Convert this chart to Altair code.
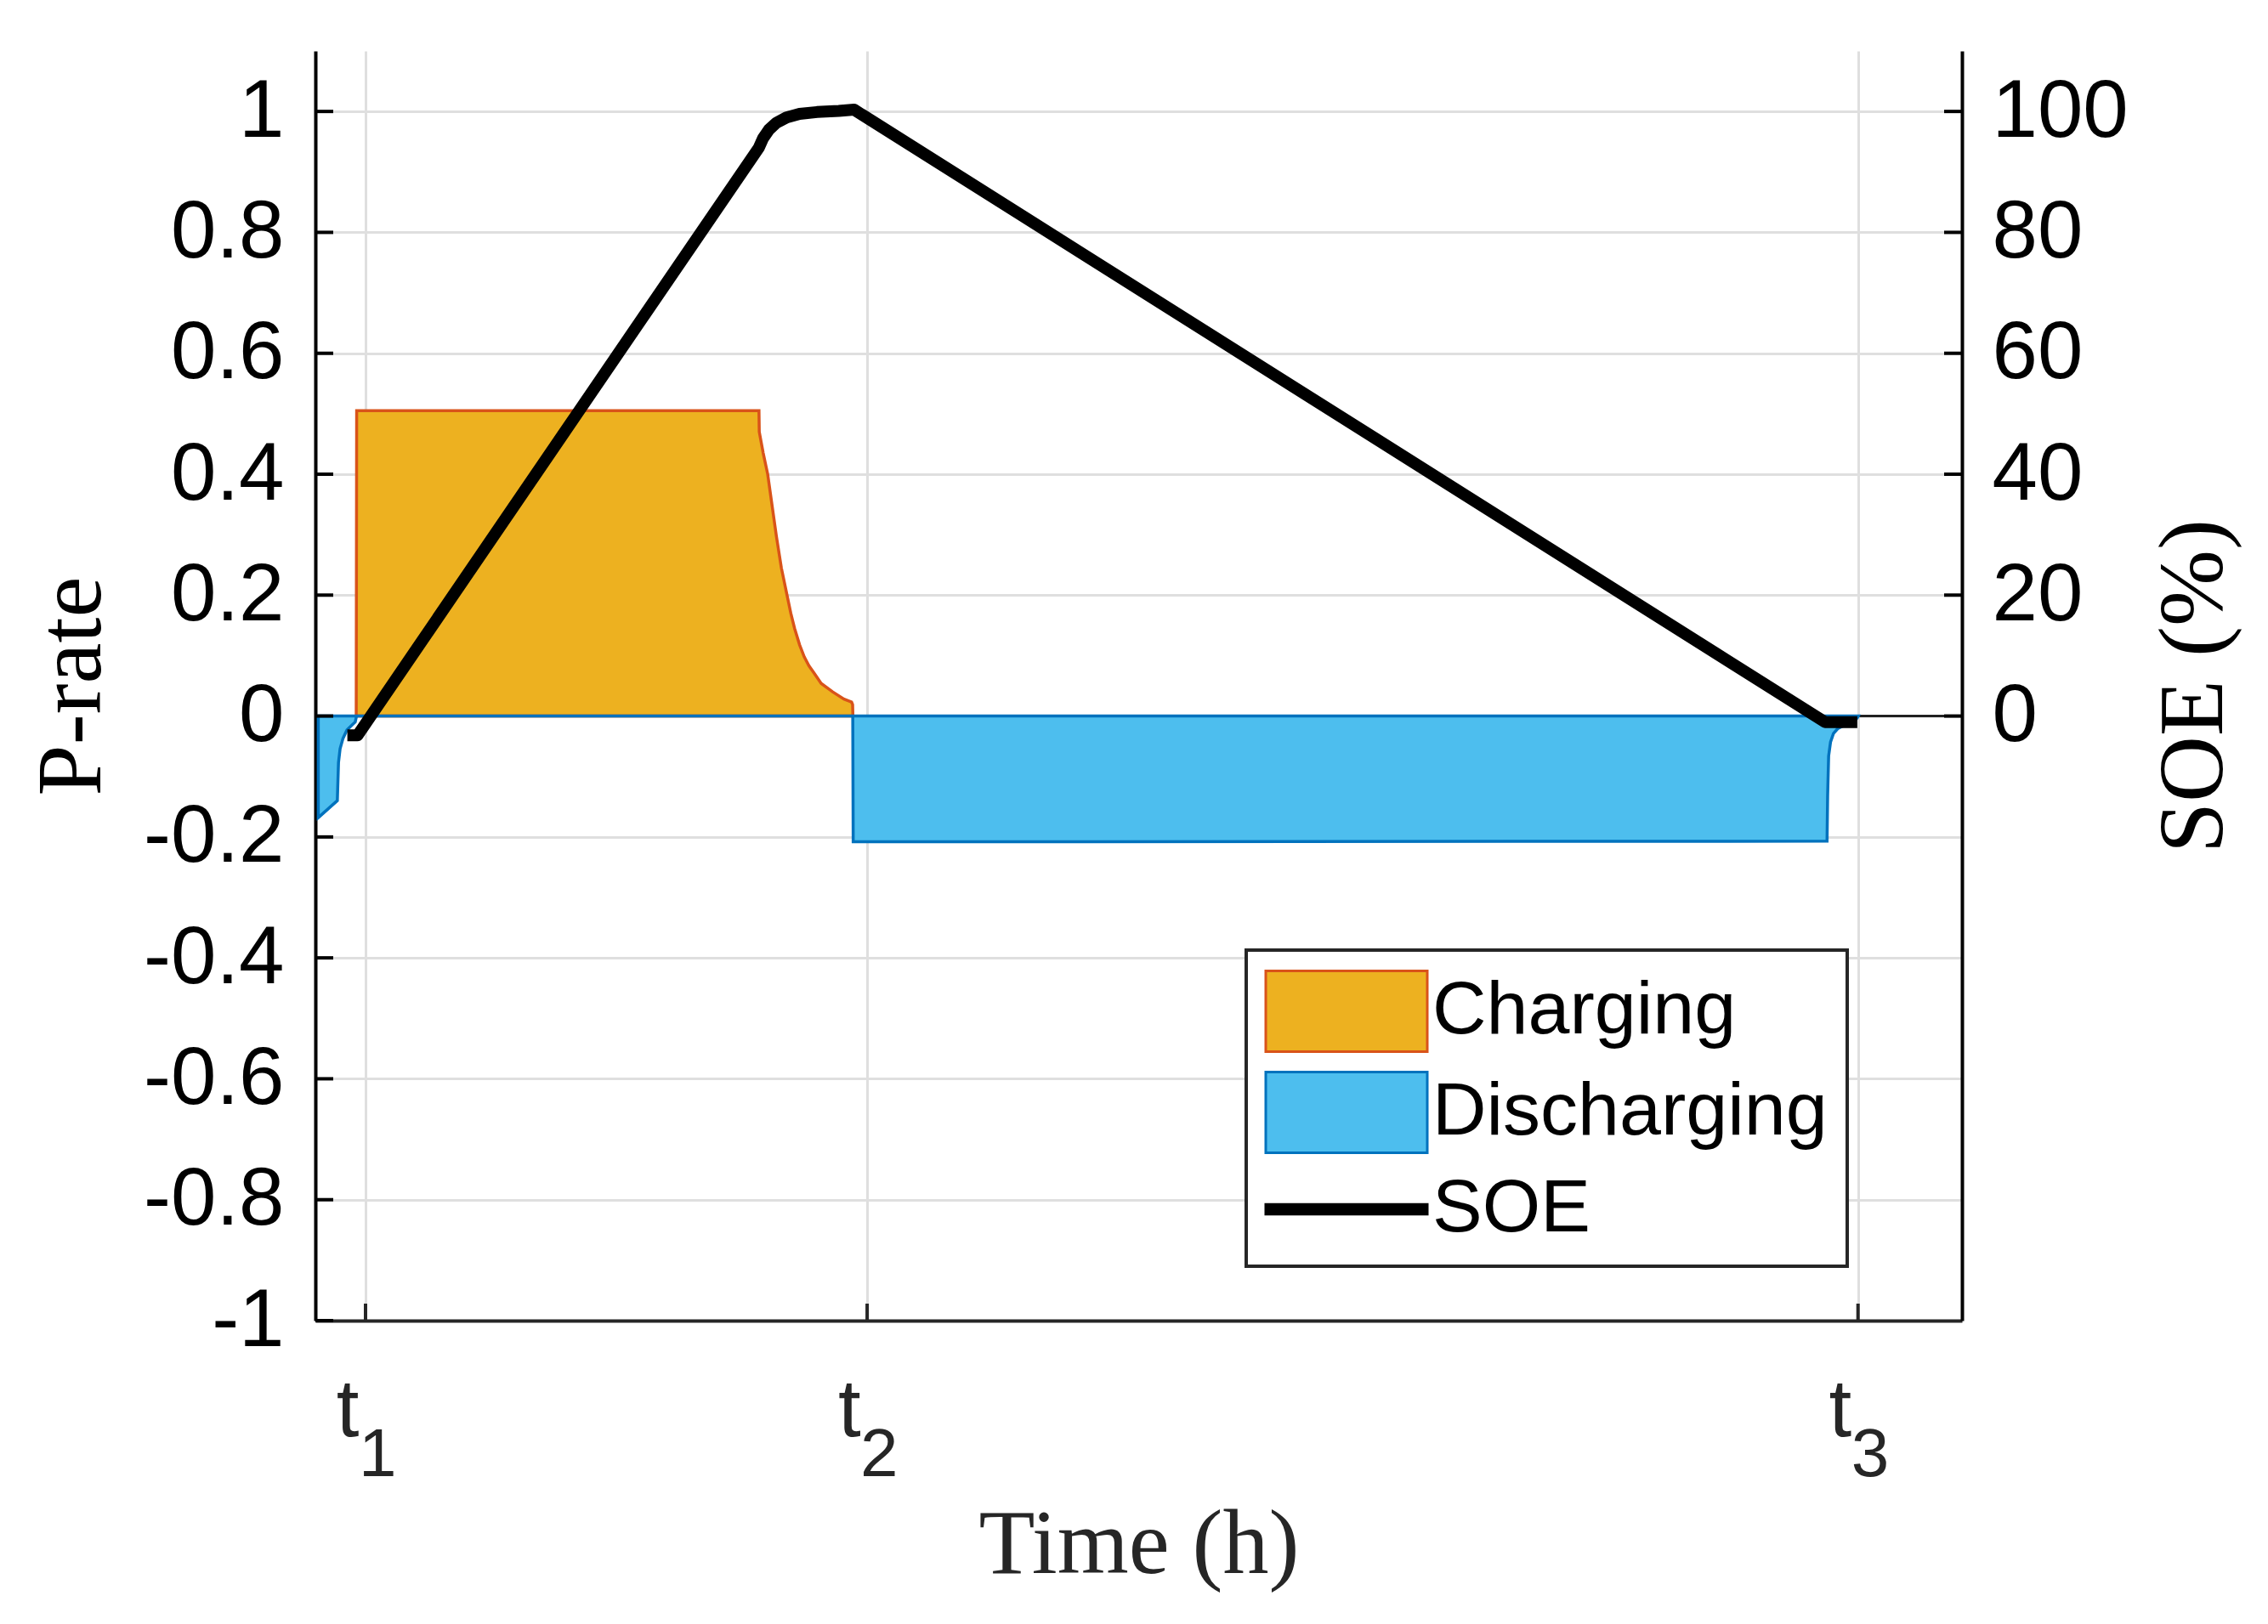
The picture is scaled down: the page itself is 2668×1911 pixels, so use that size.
import altair as alt
import pandas as pd

# ---------------- data ----------------
# time axis (h) – only the three marked instants are labelled
T_TICKS = [0.345, 3.795, 10.61]
T_SUBS = ["1", "2", "3"]
X_MAX = 11.325

Y_TICKS = [-1, -0.8, -0.6, -0.4, -0.2, 0, 0.2, 0.4, 0.6, 0.8, 1]
SOE_TICKS = [0, 20, 40, 60, 80, 100]

# charging P-rate
CHG_T = [0.281, 0.284, 3.051, 3.053, 3.080, 3.111, 3.140, 3.171, 3.205, 3.244,
         3.270, 3.296, 3.330, 3.362, 3.395, 3.427, 3.479, 3.558, 3.636, 3.688,
         3.695, 3.697]
CHG_P = [0.0, 0.505, 0.505, 0.470, 0.435, 0.400, 0.350, 0.297, 0.245, 0.200,
         0.170, 0.145, 0.118, 0.098, 0.083, 0.072, 0.054, 0.040, 0.028, 0.023,
         0.019, 0.0]

# discharging P-rate
DIS_T = [0.02, 0.151, 0.159, 0.170, 0.190, 0.217, 0.256, 0.274, 0.283, 3.696,
         3.699, 10.397, 10.401, 10.408, 10.421, 10.441, 10.470, 10.519, 10.577,
         10.605, 10.612]
DIS_P = [-0.168, -0.140, -0.077, -0.054, -0.037, -0.023, -0.014, -0.010, 0.0, 0.0,
         -0.208, -0.207, -0.132, -0.066, -0.043, -0.029, -0.021, -0.015, -0.010,
         -0.003, 0.0]

# state of energy (%)
SOE_T = [0.22, 0.29, 1.80, 3.05, 3.08, 3.12, 3.17, 3.24, 3.33, 3.45, 3.60, 3.705,
         10.383, 10.605]
SOE_V = [-3.2, -3.2, 50.0, 94.0, 95.6, 97.0, 98.1, 99.0, 99.6, 99.9, 100.1, 100.3,
         -1.0, -1.0]

SERIES = ["Charging", "Discharging", "SOE"]
FILLS = ["#EDB120", "#4DBEEE", "#000000"]
EDGES = ["#D95319", "#0072BD", "#000000"]

# ---------------- tables ----------------
chg = pd.DataFrame({"t": CHG_T, "p": CHG_P, "series": "Charging"})
dis = pd.DataFrame({"t": DIS_T, "p": DIS_P, "series": "Discharging"})
soe = pd.DataFrame({"t": SOE_T, "soe": SOE_V})
pts = pd.concat([chg, dis], ignore_index=True)
yt = pd.DataFrame({"v": Y_TICKS})
st = pd.DataFrame({"v": SOE_TICKS})
tt = pd.DataFrame({"t": T_TICKS, "s": T_SUBS})

W, H = 1937, 1494
SANS = "Liberation Sans"
SERIF = "Liberation Serif"
GRID = "#DFDFDF"
DARK = "#262626"


def xs():
    return alt.Scale(domain=[0, X_MAX], nice=False, zero=False)


def yls():
    return alt.Scale(domain=[-1, 1.1], nice=False, zero=False)


def yrs():
    return alt.Scale(domain=[-100, 110], nice=False, zero=False)


x_axis = alt.Axis(
    orient="bottom", values=T_TICKS, labelExpr="'t'", grid=True, gridColor=GRID,
    gridWidth=3, ticks=False, domain=True, domainColor=DARK, domainWidth=4,
    labels=True, labelFont=SANS, labelFontSize=96, labelColor=DARK, labelAlign="right",
    labelBaseline="alphabetic", labelPadding=135, labelOffset=-8,
    labelFlush=False, labelOverlap=False,
    title="Time (h)", titleFont=SERIF, titleFontSize=108, titleFontWeight="normal",
    titleColor=DARK, titleX=W / 2, titleY=296, titleAlign="center",
    titleBaseline="alphabetic",
)

yl_axis = alt.Axis(
    orient="left", values=Y_TICKS,
    labelExpr="datum.value < 0 ? '-' + format(-datum.value, '~g') : format(datum.value, '~g')",
    grid=True, gridColor=GRID, gridWidth=3, ticks=False,
    domainColor="black", domainWidth=4,
    labelFont=SANS, labelFontSize=96, labelColor="black", labelPadding=37,
    labelFlush=False, labelOverlap=False,
    title="P-rate", titleFont=SERIF, titleFontSize=108, titleFontWeight="normal",
    titleColor="black", titleAngle=270, titleX=-254, titleY=H / 2,
    titleAlign="center", titleBaseline="alphabetic",
)

yr_axis = alt.Axis(
    orient="right", values=SOE_TICKS, format="d", grid=False, ticks=False,
    domainColor="black", domainWidth=4,
    labelFont=SANS, labelFontSize=96, labelColor="black", labelPadding=35,
    labelFlush=False, labelOverlap=False,
    title="SOE (%)", titleFont=SERIF, titleFontSize=108, titleFontWeight="normal",
    titleColor="black", titleAngle=270, titleX=305, titleY=H / 2,
    titleAlign="center", titleBaseline="alphabetic",
)

RECT = "M-2,-1H2V1H-2Z"
BAR = "M-2,-0.12H2V0.12H-2Z"

legend = alt.Legend(
    title=None, orient="none", legendX=1095, legendY=1058,
    strokeColor=DARK, fillColor="white", padding=23,
    labelFont=SANS, labelFontSize=88, labelColor="black", labelOffset=52,
    labelLimit=2000,
    symbolSize=9025, symbolStrokeWidth=3, symbolOffset=46, symbolOpacity=1,
    rowPadding=11,
)


# x channel used by every layer that is placed in time (axis only defined once)
def xenc(axis=False):
    if axis:
        return alt.X("t:Q", scale=xs(), axis=x_axis)
    return alt.X("t:Q", scale=xs())


zero_rule = alt.Chart(pd.DataFrame({"z": [0]})).mark_rule(
    color="black", strokeWidth=2.5
).encode(y=alt.Y("z:Q", scale=yls(), axis=None))

chg_area = alt.Chart(chg).mark_area(
    fill=FILLS[0], stroke=EDGES[0], strokeWidth=3.5, fillOpacity=1
).encode(
    x=xenc(True),
    y=alt.Y("p:Q", scale=yls(), axis=yl_axis, stack=None),
    y2=alt.datum(0),
)

dis_area = alt.Chart(dis).mark_area(
    fill=FILLS[1], stroke=EDGES[1], strokeWidth=3.5, fillOpacity=1
).encode(
    x=xenc(),
    y=alt.Y("p:Q", scale=yls(), axis=None, stack=None),
    y2=alt.datum(0),
)

left_ticks = alt.Chart(yt).mark_rule(color="black", strokeWidth=4).encode(
    y=alt.Y("v:Q", scale=yls(), axis=None),
    x=alt.value(0), x2=alt.value(21),
)

bottom_ticks = alt.Chart(tt).mark_rule(color=DARK, strokeWidth=4).encode(
    x=xenc(),
    y=alt.value(H - 20), y2=alt.value(H),
)

subs = alt.Chart(tt).mark_text(
    align="left", baseline="alphabetic", dx=-8, fontSize=80, font=SANS, color=DARK
).encode(
    x=xenc(),
    y=alt.value(H + 183),
    text="s:N",
)

legend_pts = alt.Chart(pts).mark_point(opacity=0, filled=True, clip=True).encode(
    x=xenc(),
    y=alt.Y("p:Q", scale=yls(), axis=None),
    fill=alt.Fill("series:N", scale=alt.Scale(domain=SERIES, range=FILLS), legend=legend),
    stroke=alt.Stroke("series:N", scale=alt.Scale(domain=SERIES, range=EDGES), legend=legend),
    shape=alt.Shape("series:N", scale=alt.Scale(domain=SERIES, range=[RECT, RECT, BAR]), legend=legend),
)

soe_line = alt.Chart(soe).mark_line(
    color="black", strokeWidth=14, strokeJoin="round"
).encode(
    x=xenc(),
    y=alt.Y("soe:Q", scale=yrs(), axis=yr_axis),
)

right_ticks = alt.Chart(st).mark_rule(color="black", strokeWidth=4).encode(
    y=alt.Y("v:Q", scale=yrs(), axis=None),
    x=alt.value(W - 21), x2=alt.value(W),
)

chart = alt.layer(
    zero_rule, chg_area, dis_area, left_ticks, bottom_ticks, subs, legend_pts,
    soe_line, right_ticks,
).resolve_scale(y="independent").properties(
    width=W, height=H,
    autosize=alt.AutoSizeParams(type="none"),
    padding={"left": 363, "top": 52, "right": 352, "bottom": 349},
    background="white",
).configure_view(stroke=None).configure_legend(strokeWidth=4)

chart.save("out.html", embed_options={"renderer": "svg", "actions": False})
